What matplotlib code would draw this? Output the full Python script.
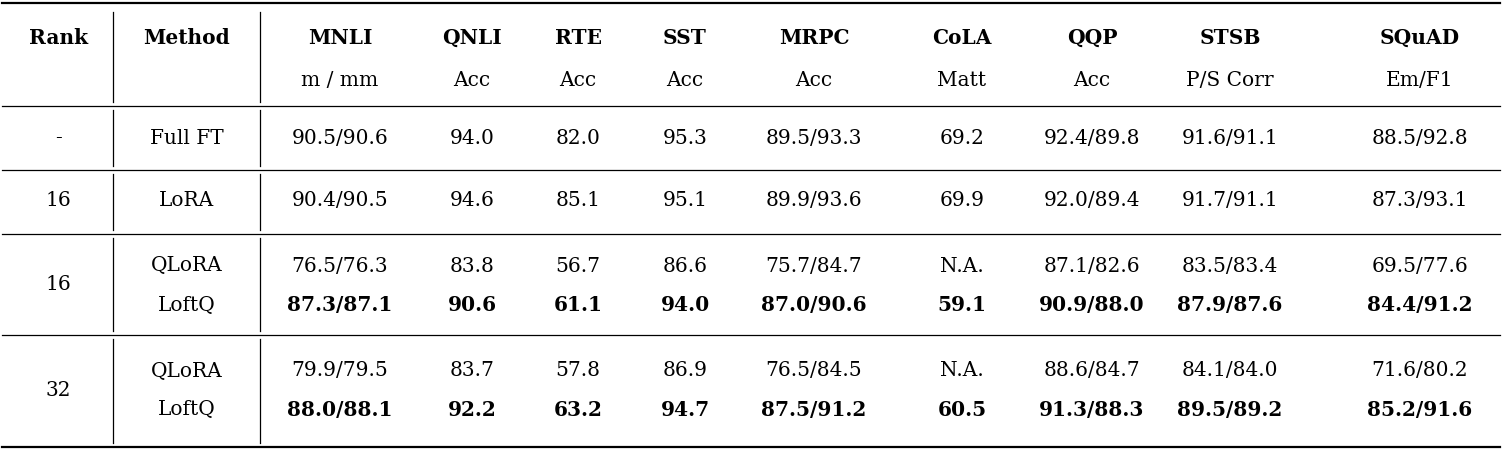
import matplotlib.pyplot as plt

# table content
header1 = ["Rank", "Method", "MNLI", "QNLI", "RTE", "SST", "MRPC", "CoLA", "QQP", "STSB", "SQuAD"]
header2 = ["", "", "m / mm", "Acc", "Acc", "Acc", "Acc", "Matt", "Acc", "P/S Corr", "Em/F1"]
full_ft = ["Full FT", "90.5/90.6", "94.0", "82.0", "95.3", "89.5/93.3", "69.2", "92.4/89.8", "91.6/91.1", "88.5/92.8"]
lora16 = ["LoRA", "90.4/90.5", "94.6", "85.1", "95.1", "89.9/93.6", "69.9", "92.0/89.4", "91.7/91.1", "87.3/93.1"]
qlora16 = ["QLoRA", "76.5/76.3", "83.8", "56.7", "86.6", "75.7/84.7", "N.A.", "87.1/82.6", "83.5/83.4", "69.5/77.6"]
loftq16 = ["LoftQ", "87.3/87.1", "90.6", "61.1", "94.0", "87.0/90.6", "59.1", "90.9/88.0", "87.9/87.6", "84.4/91.2"]
qlora32 = ["QLoRA", "79.9/79.5", "83.7", "57.8", "86.9", "76.5/84.5", "N.A.", "88.6/84.7", "84.1/84.0", "71.6/80.2"]
loftq32 = ["LoftQ", "88.0/88.1", "92.2", "63.2", "94.7", "87.5/91.2", "60.5", "91.3/88.3", "89.5/89.2", "85.2/91.6"]

W, H = 1502, 450
col_x = [58, 187, 340, 472, 578, 685, 814, 962, 1092, 1230, 1420]

fig = plt.figure(figsize=(W / 100, H / 100), dpi=100)
ax = fig.add_axes([0, 0, 1, 1])
ax.set_xlim(0, W)
ax.set_ylim(H, 0)
ax.axis("off")

FONT = "DejaVu Serif"
FS = 14.5

def row(y, cells, start=1, bold=False):
    for x, t in zip(col_x[start:], cells):
        ax.text(x, y, t, ha="center", va="center", fontsize=FS, family=FONT,
                fontweight="bold" if bold else "normal")

def cell(x, y, t):
    ax.text(x, y, t, ha="center", va="center", fontsize=FS, family=FONT)

row(38, header1, 0, bold=True)
row(80, header2, 0)
row(138, full_ft)
cell(col_x[0], 138, "-")
row(201, lora16)
cell(col_x[0], 201, "16")
row(266, qlora16)
cell(col_x[1], 305, loftq16[0])
row(305, loftq16[1:], 2, bold=True)
cell(col_x[0], 285, "16")
row(371, qlora32)
cell(col_x[1], 410, loftq32[0])
row(410, loftq32[1:], 2, bold=True)
cell(col_x[0], 390, "32")

# horizontal rules
x0, x1 = 2, 1500
ax.plot([x0, x1], [3, 3], color="black", lw=1.6)
for y in [106, 170, 234, 335]:
    ax.plot([x0, x1], [y, y], color="black", lw=0.9)
ax.plot([x0, x1], [447, 447], color="black", lw=1.6)

# vertical rules per section
sections = [(12, 102), (110, 166), (174, 230), (238, 331), (339, 443)]
for xv in [113, 260]:
    for a, b in sections:
        ax.plot([xv, xv], [a, b], color="black", lw=0.9)

fig.savefig("out.png", dpi=100)
